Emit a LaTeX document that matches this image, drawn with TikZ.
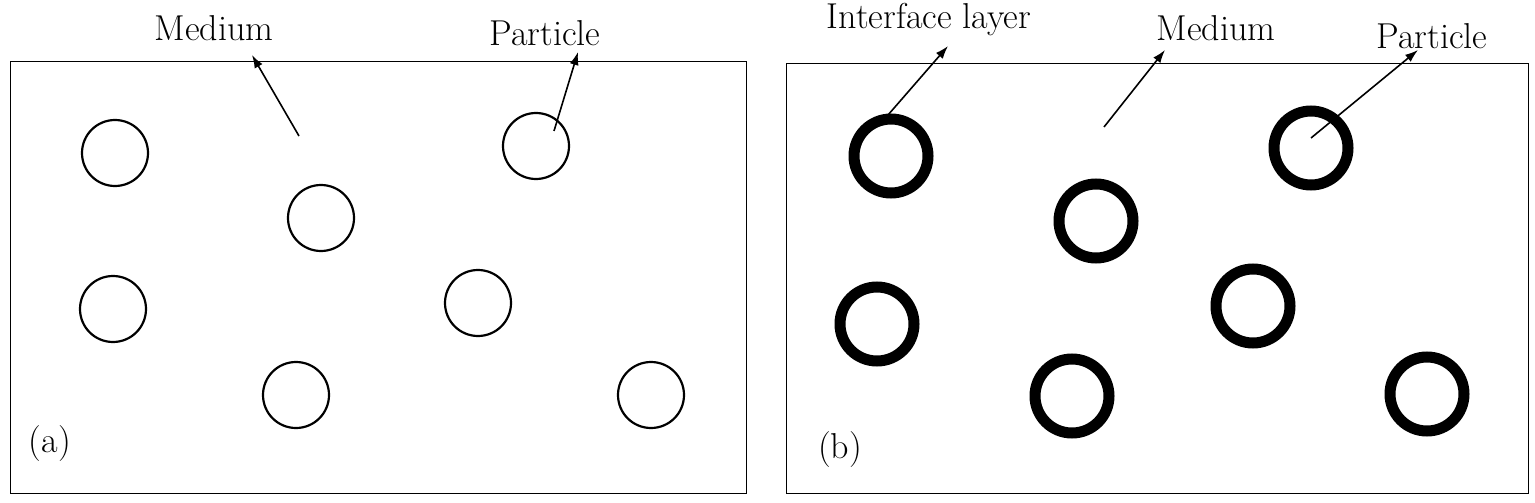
\documentclass[tikz,border=0pt]{standalone}
\usetikzlibrary{arrows.meta}
\begin{document}
\begin{tikzpicture}[x=1pt,y=-1pt,
 lbl/.style={font=\fontsize{36}{43}\selectfont,inner sep=0},
 pa/.style={line width=2.2pt,circle,minimum size=66pt,draw,inner sep=0},
 pb/.style={line width=11pt,circle,minimum size=74pt,draw,inner sep=0},
 arr/.style={line width=1.6pt,-{Latex[length=13pt,width=9pt]}},
 box/.style={line width=0.9pt}]
\useasboundingbox (0,0) rectangle (1535,503);
\draw[box] (10,61) rectangle (746,493);
\draw[box] (786,63) rectangle (1528,493);
\foreach \n/\x/\y in {a1/115/153,a2/321/218,a3/536/146,a4/113/309,a5/478/303,a6/296/395,a7/651/395}
  \node[pa] (\n) at (\x,\y) {};
\foreach \n/\x/\y in {b1/891/156,b2/1096/221,b3/1311/148,b4/877/324,b5/1253/306,b6/1072/396,b7/1427/394}
  \node[pb] (\n) at (\x,\y) {};
\node[lbl] (m1) at (214,28) {Medium};
\node[lbl] (p1) at (545,33) {Particle};
\node[lbl] (la) at (50,444) {(a)};
\node[lbl] (il) at (929,20) {Interface layer};
\node[lbl] (m2) at (1216,28) {Medium};
\node[lbl] (p2) at (1432,36) {Particle};
\node[lbl] (lb) at (840,450) {(b)};
\coordinate (s1) at (299,136); \coordinate (e1) at (252,55);
\coordinate (s2) at (554,131); \coordinate (e2) at (578,52);
\coordinate (s3) at (888,115); \coordinate (e3) at (948,46);
\coordinate (s4) at (1104,127); \coordinate (e4) at (1165,50);
\coordinate (s5) at (1311,138); \coordinate (e5) at (1418,50);
\foreach \i in {1,...,5} \draw[arr] (s\i) -- (e\i);
\end{tikzpicture}
\end{document}
